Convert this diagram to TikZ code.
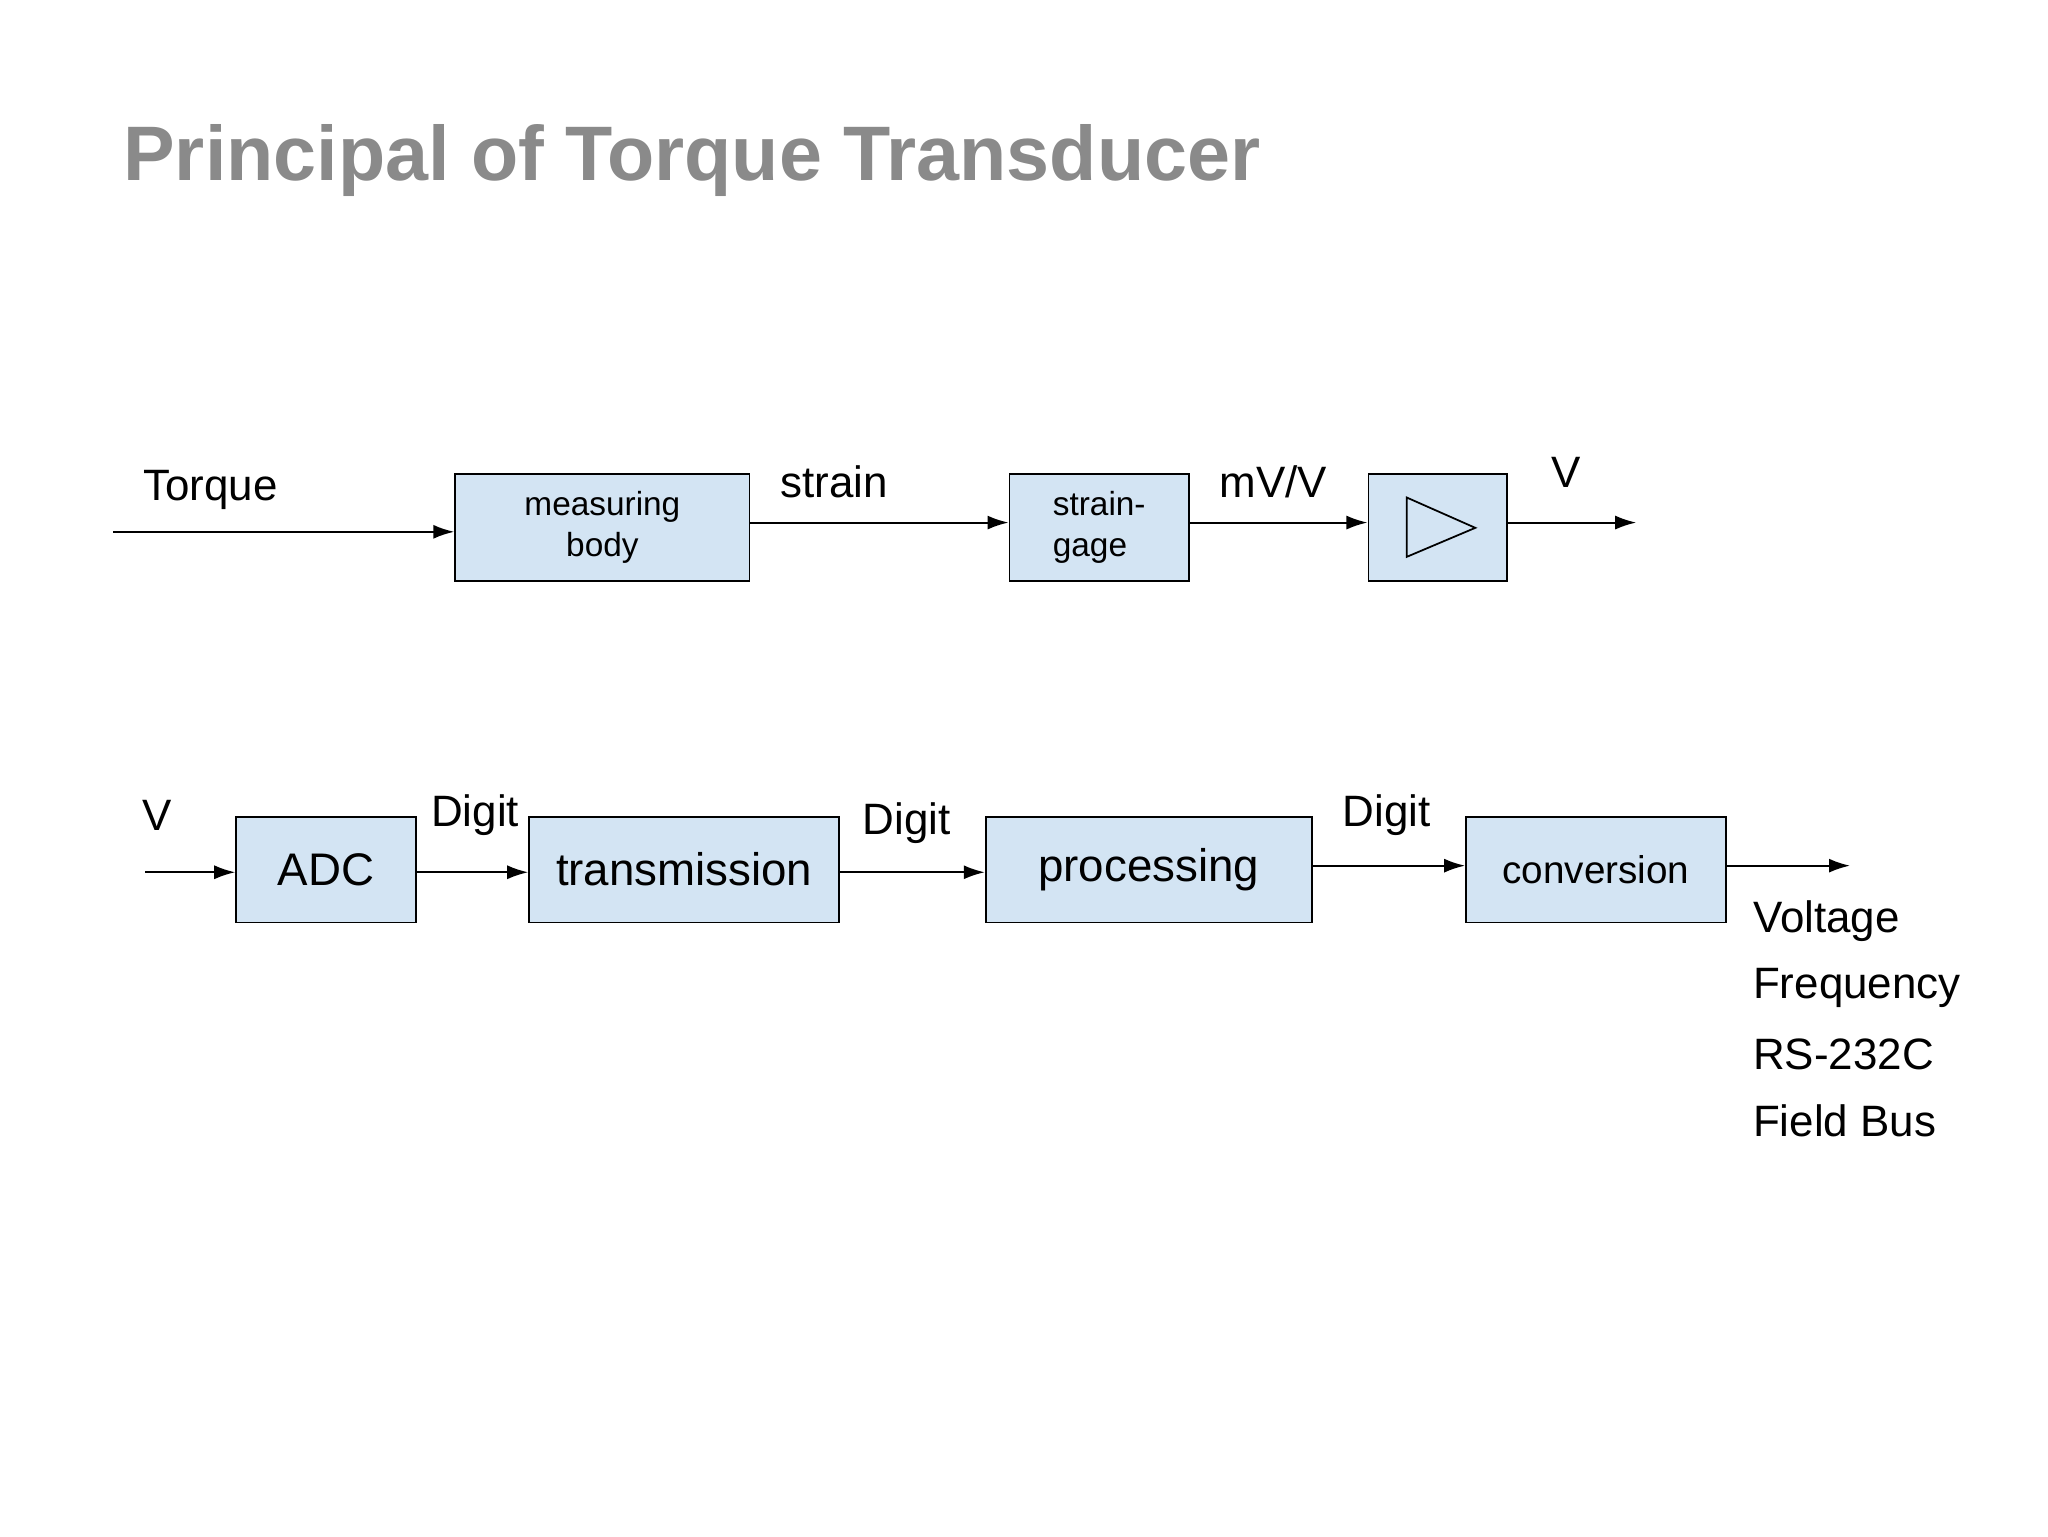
\documentclass[tikz,border=0pt]{standalone}
\usepackage{fontspec}
\setmainfont{Liberation Sans}
\usetikzlibrary{arrows.meta}
\definecolor{boxfill}{HTML}{D3E4F3}
\definecolor{titlegray}{HTML}{8A8A8A}
\begin{document}
\begin{tikzpicture}[x=0.013196cm,y=-0.013196cm,
  blk/.style={draw,fill=boxfill,line width=0.5pt},
  con/.style={line width=0.6pt,-{Latex[length=6pt,width=4pt]}},
  lbl/.style={inner sep=0pt,font=\fontsize{12.5pt}{14pt}\selectfont},
  small/.style={font=\fontsize{9.5pt}{11.5pt}\selectfont,align=center},
  big/.style={font=\fontsize{13pt}{15pt}\selectfont}]
\useasboundingbox (0,0) rectangle (1552,1164);
\node[anchor=west,inner sep=0pt,text=titlegray,font=\fontsize{22pt}{26pt}\selectfont\bfseries] (title) at (93,122) {Principal of Torque Transducer};
% row 1
\node[blk,minimum width=223*0.013196cm,minimum height=81*0.013196cm,small] (mb) at (456.5,399.5) {measuring\\body};
\node[blk,minimum width=136*0.013196cm,minimum height=81*0.013196cm,small,align=left] (sg) at (833,399.5) {strain-\\gage};
\node[blk,minimum width=105*0.013196cm,minimum height=81*0.013196cm] (amp) at (1089.5,399.5) {};
\draw[line width=0.5pt] (1066,377) -- (1066,422) -- (1118,400) -- cycle;
\coordinate (tin) at (86,403);
\coordinate (vout) at (1240,396);
\draw[con] (tin) -- (mb.west |- tin);
\draw[con] (mb.east |- 0,396) -- (sg.west |- 0,396);
\draw[con] (sg.east |- 0,396) -- (amp.west |- 0,396);
\draw[con] (amp.east |- vout) -- (vout);
\node[lbl,anchor=west] (torque) at (108,371) {Torque};
\node[lbl] (strain) at (632,365) {strain};
\node[lbl] (mvv) at (965,365) {mV/V};
\node[lbl] (v1) at (1187,358) {V};
% row 2
\node[blk,minimum width=136*0.013196cm,minimum height=80*0.013196cm,big] (adc) at (247,659) {ADC};
\node[blk,minimum width=235*0.013196cm,minimum height=80*0.013196cm,big] (tr) at (518.5,659) {transmission};
\node[blk,minimum width=247*0.013196cm,minimum height=80*0.013196cm,big] (pr) at (870.5,659) {processing};
\node[blk,minimum width=197*0.013196cm,minimum height=80*0.013196cm,font=\fontsize{11pt}{13pt}\selectfont] (cv) at (1209.5,659) {conversion};
\coordinate (vin) at (110,661);
\coordinate (out) at (1402,656);
\draw[con] (vin) -- (adc.west |- vin);
\draw[con] (adc.east |- 0,661) -- (tr.west |- 0,661);
\draw[con] (tr.east |- 0,661) -- (pr.west |- 0,661);
\draw[con] (pr.east |- 0,656) -- (cv.west |- 0,656);
\draw[con] (cv.east |- out) -- (out);
\node[lbl] (v2) at (119,618) {V};
\node[lbl] (d1) at (360,618) {Digit};
\node[lbl] (d2) at (687,624) {Digit};
\node[lbl] (d3) at (1051,618) {Digit};
\node[lbl,anchor=west] (o1) at (1328,698) {Voltage};
\node[lbl,anchor=west] (o2) at (1328,749) {Frequency};
\node[lbl,anchor=west] (o3) at (1328,799) {RS-232C};
\node[lbl,anchor=west] (o4) at (1328,849) {Field Bus};
\end{tikzpicture}
\end{document}
